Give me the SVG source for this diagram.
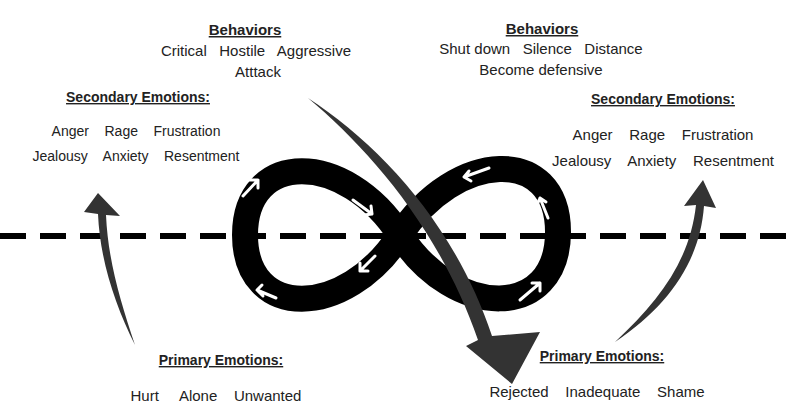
<svg xmlns="http://www.w3.org/2000/svg" width="792" height="416" viewBox="0 0 792 416">
<style>
text{font-family:"Liberation Sans",Arial,sans-serif;fill:#222;font-size:15px;text-anchor:middle;white-space:pre}
.s{font-size:14px}
.h{font-weight:bold;text-decoration:underline;font-size:14px}
.h2{font-weight:bold;text-decoration:underline;font-size:15px}
.w{stroke:#fff;stroke-width:3;fill:none;stroke-linecap:round;stroke-linejoin:round}
</style>
<rect width="792" height="416" fill="#fff"/>
<g id="axis"><line x1="0" y1="236" x2="792" y2="236" stroke="#000" stroke-width="6" stroke-dasharray="26,14"/></g>
<g id="loop">
<path d="M400,235 C345,150 245,150 245,235 C245,320 345,320 400,235 C455,150 558,145 558,232 C558,320 455,320 400,235 Z" fill="none" stroke="#000" stroke-width="26"/>
<g class="w">
<path d="M243,196 L258,180 M250,180 L258,180 L258,188"/>
<path d="M353,200 L372,214 M364,215 L372,214 L371,206"/>
<path d="M375,256 L360,271 M360,263 L360,271 L368,271"/>
<path d="M276,298 L257,290 M262,285 L257,290 L263,296"/>
<path d="M489,168 L464,177 M469,171 L464,177 L471,181"/>
<path d="M548,218 L540,198 M537,205 L540,198 L546,202"/>
<path d="M520,300 L540,283 M532,283 L540,283 L540,291"/>
</g>
</g>
<g id="connectors" fill="#333">
<path d="M308,98 C370,150 440,230 478,340 L466,346 L512,384 L540,332 L492,336 C455,225 380,145 308,98 Z"/>
<path d="M135,345 C120,300 108,260 106,215 L120,216 L98,193 L84,212 L98,214 C100,260 115,305 135,345 Z"/>
<path d="M615,342 C660,300 690,260 696,205 L684,206 L703,180 L716,208 L704,206 C700,260 670,305 615,342 Z"/>
</g>
<g id="behaviors-left"><text x="245" y="35" class="h2">Behaviors</text><text x="256" y="56">Critical   Hostile   Aggressive</text><text x="258" y="77">Atttack</text></g>
<g id="behaviors-right"><text x="542" y="34" class="h2">Behaviors</text><text x="541" y="54">Shut down   Silence   Distance</text><text x="541" y="75">Become defensive</text></g>
<g id="secondary-left"><text x="138" y="102" class="h">Secondary Emotions:</text><text x="136" y="136" class="s">Anger    Rage    Frustration</text><text x="136" y="161" class="s">Jealousy    Anxiety    Resentment</text></g>
<g id="secondary-right"><text x="663" y="104" class="h">Secondary Emotions:</text><text x="663" y="140">Anger    Rage    Frustration</text><text x="663" y="166">Jealousy    Anxiety    Resentment</text></g>
<g id="primary-left"><text x="221" y="365" class="h">Primary Emotions:</text><text x="216" y="401">Hurt     Alone    Unwanted</text></g>
<g id="primary-right"><text x="602" y="361" class="h">Primary Emotions:</text><text x="597" y="397">Rejected    Inadequate    Shame</text></g>
</svg>
